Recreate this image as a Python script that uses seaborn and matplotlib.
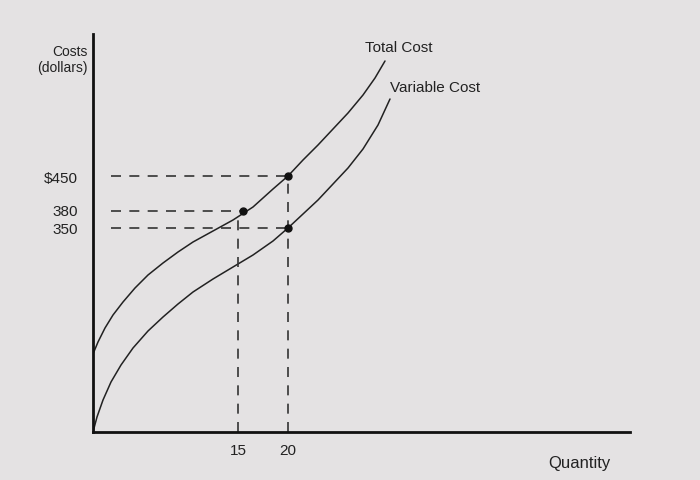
import matplotlib
matplotlib.use("Agg")
import matplotlib.pyplot as plt
import seaborn as sns
import pandas as pd

# Chart coordinates (textbook sketch, not to scale)
tc_x = [0, 5, 12, 20, 30, 42, 55, 70, 85, 100, 120, 140, 160, 180, 195, 210, 225, 240, 255, 270, 282, 292]
tc_y = [78, 90, 104, 117, 130, 144, 157, 169, 180, 190, 201, 212, 225, 243, 256, 272, 287, 303, 319, 337, 354, 371]
vc_x = [0, 4, 10, 18, 28, 40, 55, 70, 85, 100, 120, 140, 160, 180, 195, 210, 225, 240, 255, 270, 285, 297]
vc_y = [0, 15, 32, 50, 67, 84, 101, 115, 128, 140, 153, 165, 177, 191, 204, 218, 232, 248, 264, 283, 307, 333]
xtick_pos = [145, 195]
xtick_labels = ["15", "20"]
ytick_pos = [255, 222, 204]
ytick_labels = ["$450", "380", "350"]
points = [(150, 221), (195, 256), (195, 204)]

sns.set_style("white")
plt.rcParams['font.family'] = ['Liberation Sans', 'DejaVu Sans']
bg = "#e4e2e3"
fig = plt.figure(figsize=(7, 4.81), dpi=100, facecolor=bg)
ax = fig.add_axes([93/700, 48/481, 537/700, 398/481], facecolor=bg)

df = pd.concat([pd.DataFrame({"x": tc_x, "y": tc_y, "s": "TC"}),
                pd.DataFrame({"x": vc_x, "y": vc_y, "s": "VC"})])
sns.lineplot(data=df, x="x", y="y", units="s", estimator=None, sort=False,
             color="#222", lw=1.1, ax=ax)

dash = dict(color="#333", lw=1.2, ls=(0, (6, 5)))
ax.plot([18, 195], [256, 256], **dash)
ax.plot([18, 150], [221, 221], **dash)
ax.plot([18, 195], [204, 204], **dash)
ax.plot([145, 145], [0, 215], **dash)
ax.plot([195, 195], [0, 250], **dash)
for px, py in points:
    ax.plot(px, py, "o", color="#111", ms=5)

ax.set_xlim(0, 537)
ax.set_ylim(0, 398)
for s in ["top", "right"]:
    ax.spines[s].set_visible(False)
for s in ["left", "bottom"]:
    ax.spines[s].set_linewidth(2)
    ax.spines[s].set_color("#111")
ax.set_xticks(xtick_pos, xtick_labels, fontsize=11, color="#222")
ax.set_yticks(ytick_pos, ytick_labels, fontsize=11, color="#222")
ax.tick_params(axis="y", direction="inout", length=14, width=1.2, color="#222", pad=4)
ax.tick_params(axis="x", length=0, pad=8)
ax.set_xlabel(""); ax.set_ylabel("")
ax.text(-5, 388, "Costs\n(dollars)", ha="right", va="top", fontsize=10, color="#222")
ax.text(272, 381, "Total Cost", fontsize=11, color="#222")
ax.text(297, 341, "Variable Cost", fontsize=11, color="#222")
ax.text(455, -35, "Quantity", fontsize=12, color="#222", clip_on=False)
fig.savefig("out.png", dpi=100, facecolor=bg)
